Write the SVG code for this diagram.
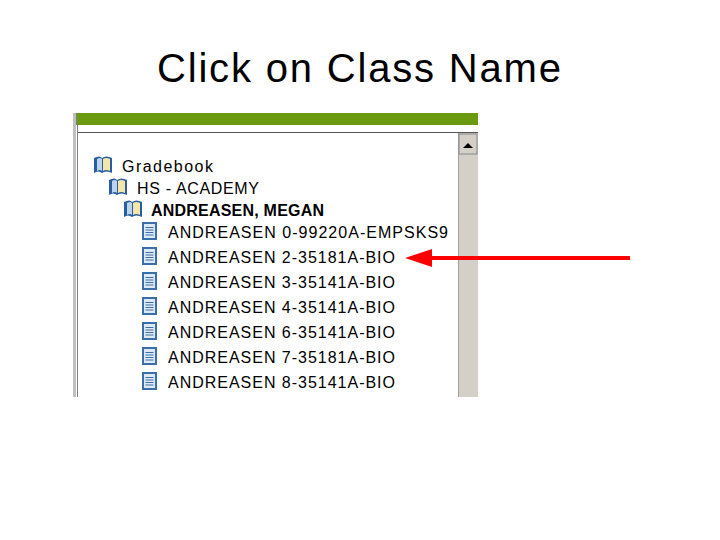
<svg xmlns="http://www.w3.org/2000/svg" width="720" height="540" viewBox="0 0 720 540">
<defs>
<style>
.t{font-family:"Liberation Sans",Arial,sans-serif;font-size:16px;fill:#000}
.b{font-weight:bold}
</style>
<g id="doc">
<rect x="0" y="0" width="15" height="18" fill="#3a6ea8"/>
<rect x="2" y="2" width="11" height="14" fill="#dfe9f5"/>
<path d="M3.5 5.5h8M3.5 8h8M3.5 10.5h8M3.5 13h8" stroke="#3a6ea8" stroke-width="1"/>
</g>
<g id="book">
<path d="M1 3 Q7 0 9 3 V18 Q5 15 1 18Z" fill="#2a5d9f"/>
<path d="M9 3 Q13 0 19 3 V18 Q13 15 9 18Z" fill="#2a5d9f"/>
<path d="M4 4 Q7 2 9 4 V16 Q7 14 4 16Z" fill="#bcd4ee"/>
<path d="M10 4 Q13 2 17 4 V16 Q13 14 10 16Z" fill="#f3e6a8"/>
</g>
</defs>
<rect width="720" height="540" fill="#fff"/>
<text x="359" y="82" text-anchor="middle" font-family="Liberation Sans,Arial,sans-serif" font-size="40" textLength="404">Click on Class Name</text>
<g id="window">
<rect x="73" y="113" width="405" height="284" fill="#fff"/>
<rect x="73" y="113" width="405" height="12" fill="#6a9a10"/>
<rect x="73" y="125" width="405" height="7" fill="#fff"/>
<line x1="78" y1="132.5" x2="478" y2="132.5" stroke="#555"/>
<rect x="73" y="113" width="3" height="284" fill="#c0c0c0"/>
<line x1="77.5" y1="113" x2="77.5" y2="397" stroke="#808080"/>
<rect x="458" y="133" width="20" height="264" fill="#d4d0c8"/>
<line x1="458.5" y1="133" x2="458.5" y2="397" stroke="#a0a0a0"/>
<rect x="459" y="134" width="18" height="20" fill="#d4d0c8" stroke="#888"/>
<path d="M463 148h10l-5-5z" fill="#000"/>
</g>
<g id="tree">
<use href="#book" x="93" y="155"/>
<text class="t" x="122" y="172" textLength="91">Gradebook</text>
<use href="#book" x="108" y="177"/>
<text class="t" x="137" y="194" textLength="122">HS - ACADEMY</text>
<use href="#book" x="123" y="199"/>
<text class="t b" x="151" y="216" textLength="173">ANDREASEN, MEGAN</text>
<use href="#doc" x="142" y="222"/>
<text class="t" x="168" y="238" textLength="280">ANDREASEN 0-99220A-EMPSKS9</text>
<use href="#doc" x="142" y="247"/>
<text class="t" x="168" y="263" textLength="227">ANDREASEN 2-35181A-BIO</text>
<use href="#doc" x="142" y="272"/>
<text class="t" x="168" y="288" textLength="227">ANDREASEN 3-35141A-BIO</text>
<use href="#doc" x="142" y="297"/>
<text class="t" x="168" y="313" textLength="227">ANDREASEN 4-35141A-BIO</text>
<use href="#doc" x="142" y="322"/>
<text class="t" x="168" y="338" textLength="227">ANDREASEN 6-35141A-BIO</text>
<use href="#doc" x="142" y="347"/>
<text class="t" x="168" y="363" textLength="227">ANDREASEN 7-35181A-BIO</text>
<use href="#doc" x="142" y="372"/>
<text class="t" x="168" y="388" textLength="227">ANDREASEN 8-35141A-BIO</text>
</g>
<g id="connectors">
<line x1="630" y1="258" x2="430" y2="258" stroke="#f00" stroke-width="4"/>
<path d="M405 258 L432 249 L432 267Z" fill="#f00"/>
</g>
</svg>
